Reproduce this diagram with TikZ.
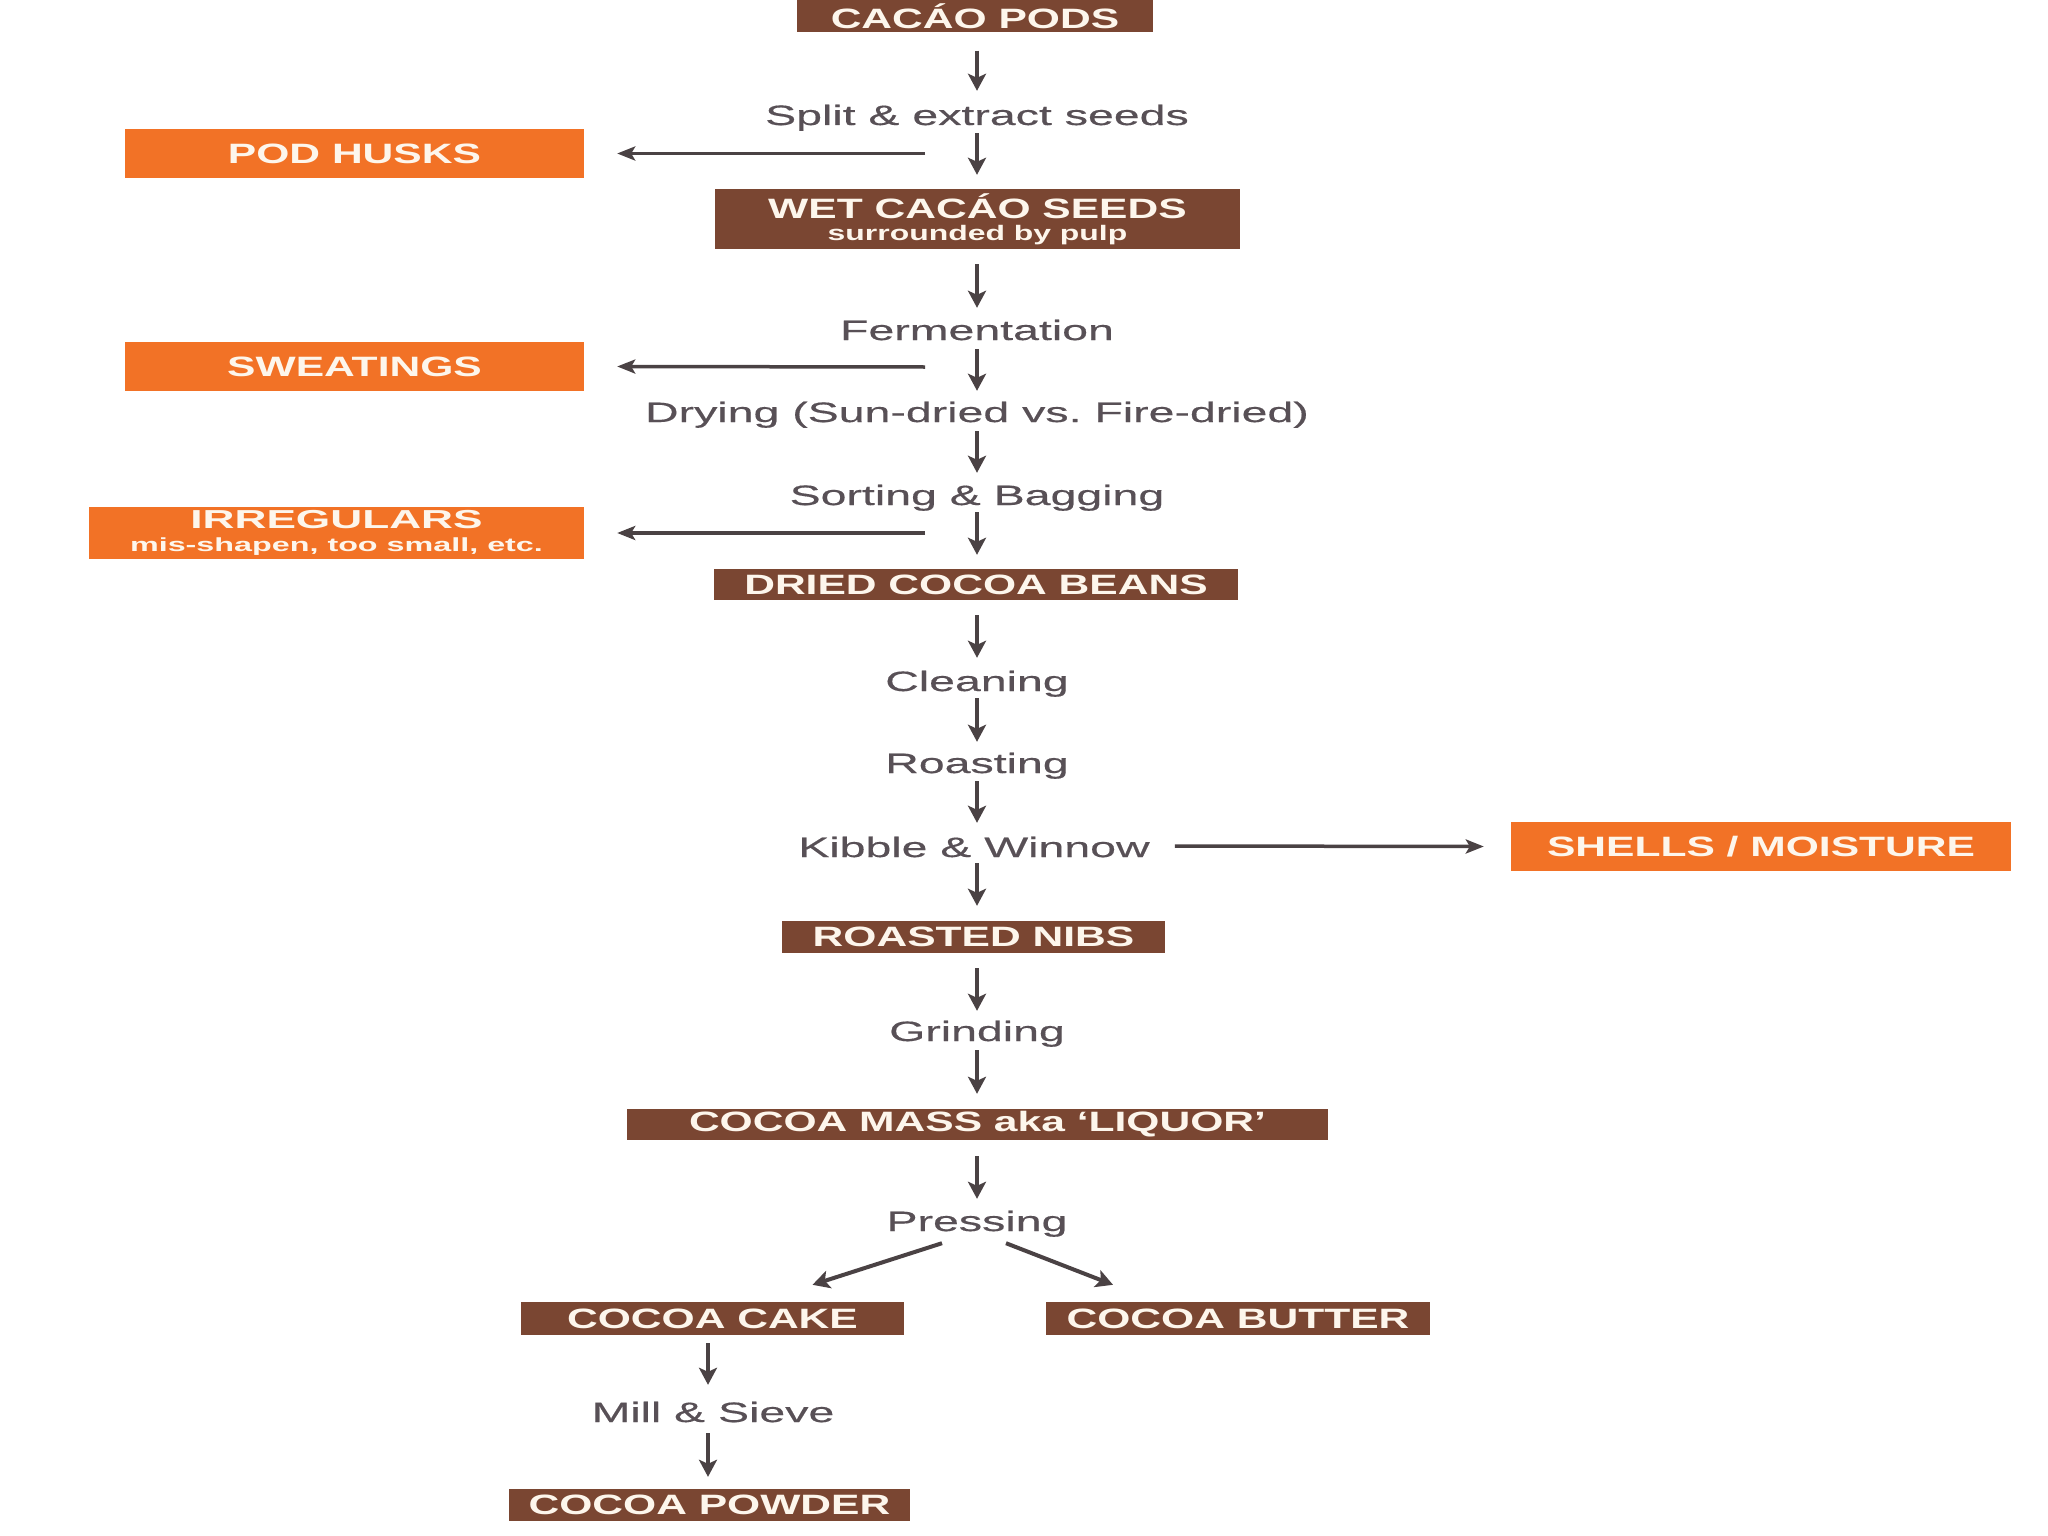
\documentclass[tikz,border=0pt]{standalone}
\usepackage{fontspec}
\usetikzlibrary{arrows.meta,calc}
\newfontfamily\boxfont[FakeStretch=1.52]{Liberation Sans}
\newfontfamily\wideboxfont[FakeStretch=1.7]{Liberation Sans}
\newfontfamily\stepfont[FakeStretch=1.66,FakeBold=0.4]{Liberation Sans}
\definecolor{cocoa}{RGB}{122,70,50}
\definecolor{husk}{RGB}{242,114,38}
\definecolor{inkgray}{RGB}{88,80,86}
\definecolor{arrowgray}{RGB}{74,66,68}
\definecolor{cream}{RGB}{253,246,236}
\begin{document}
\begin{tikzpicture}[x=1pt,y=-1pt,
  prodbox/.style={fill=cocoa, text=cream, inner sep=0pt, align=center,
    font=\boxfont\bfseries\fontsize{28pt}{30pt}\selectfont},
  wastebox/.style={prodbox, fill=husk},
  stepname/.style={text=inkgray, inner sep=0pt, text height=24pt, text depth=2pt,
    font=\stepfont\fontsize{28pt}{30pt}\selectfont},
  flow/.style={draw=arrowgray, line width=4pt, -{Stealth[length=17pt,width=18pt,inset=4pt]}},
  sideflow/.style={draw=arrowgray, line width=3.5pt, -{Stealth[length=18pt,width=14pt,inset=4pt]}}
]
\fill[white] (0,0) rectangle (2048,1536);
\useasboundingbox (0,0) rectangle (2048,1536);

% main column
\node[prodbox, minimum width=356pt, minimum height=33pt] (pods) at (975,16) {CACÁO PODS};
\node[stepname] (split) at (977,114) {Split \& extract seeds};
\node[prodbox, minimum width=525pt, minimum height=60pt] (wet) at (977.5,219)
  {WET CACÁO SEEDS\\[-8pt]{\fontsize{21pt}{22pt}\selectfont surrounded by pulp}};
\node[stepname] (ferm) at (977,329) {Fermentation};
\node[stepname] (dry) at (977,411) {Drying (Sun-dried vs.\ Fire-dried)};
\node[stepname] (sort) at (977,494) {Sorting \& Bagging};
\node[prodbox, minimum width=524pt, minimum height=31pt] (dried) at (976,584.5) {DRIED COCOA BEANS};
\node[stepname] (clean) at (977,680) {Cleaning};
\node[stepname] (roast) at (977,762) {Roasting};
\node[stepname] (kibble) at (974,846) {Kibble \& Winnow};
\node[prodbox, minimum width=383pt, minimum height=32pt] (nibs) at (973.5,937) {ROASTED NIBS};
\node[stepname] (grind) at (977,1030) {Grinding};
\node[prodbox, minimum width=701pt, minimum height=31pt] (mass) at (977.5,1124.5) {COCOA MASS aka ‘LIQUOR’};
\node[stepname] (press) at (977,1220) {Pressing};
\node[prodbox, minimum width=383pt, minimum height=33pt] (cake) at (712.5,1318.5) {COCOA CAKE};
\node[prodbox, minimum width=384pt, minimum height=33pt] (butter) at (1238,1318.5) {COCOA BUTTER};
\node[stepname] (mill) at (713,1411) {Mill \& Sieve};
\node[prodbox, minimum width=401pt, minimum height=32pt] (powder) at (709.5,1505) {COCOA POWDER};

% by-products
\node[wastebox, minimum width=459pt, minimum height=49pt] (husks) at (354.5,153.5) {POD HUSKS};
\node[wastebox, minimum width=459pt, minimum height=49pt] (sweat) at (354.5,366.5) {SWEATINGS};
\node[wastebox, minimum width=495pt, minimum height=52pt,
  font=\wideboxfont\bfseries\fontsize{26pt}{30pt}\selectfont] (irreg) at (336.5,533)
  {IRREGULARS\\[-7pt]{\fontsize{19pt}{20pt}\selectfont mis-shapen, too small, etc.}};
\node[wastebox, minimum width=500pt, minimum height=49pt] (shells) at (1761,846.5) {SHELLS / MOISTURE};

% main flow arrows
\draw[flow] ($(pods.south)+(2,18)$) -- ($(split.north)+(0,-10)$);
\draw[flow] ($(split.south)+(0,6)$) -- ($(wet.north)+(-0.5,-14)$);
\draw[flow] ($(wet.south)+(-0.5,15)$) -- ($(ferm.north)+(0,-8)$);
\draw[flow] ($(ferm.south)+(0,7)$) -- ($(dry.north)+(0,-7)$);
\draw[flow] ($(dry.south)+(0,7)$) -- ($(sort.north)+(0,-8)$);
\draw[flow] ($(sort.south)+(0,5)$) -- ($(dried.north)+(1,-14)$);
\draw[flow] ($(dried.south)+(1,15)$) -- ($(clean.north)+(0,-9)$);
\draw[flow] ($(clean.south)+(0,5)$) -- ($(roast.north)+(0,-7)$);
\draw[flow] ($(roast.south)+(0,6)$) -- ($(kibble.north)+(3,-10)$);
\draw[flow] ($(kibble.south)+(3,4)$) -- ($(nibs.north)+(3.5,-15)$);
\draw[flow] ($(nibs.south)+(3.5,15)$) -- ($(grind.north)+(0,-6)$);
\draw[flow] ($(grind.south)+(0,7)$) -- ($(mass.north)+(-0.5,-15)$);
\draw[flow] ($(mass.south)+(-0.5,16)$) -- ($(press.north)+(0,-8)$);
\draw[flow] ($(press.south)+(-35,10)$) -- ($(cake.north)+(100,-17)$);
\draw[flow] ($(press.south)+(29,10)$) -- ($(butter.north)+(-125,-17)$);
\draw[flow] ($(cake.south)+(-4.5,8)$) -- ($(mill.north)+(-5,-13)$);
\draw[flow] ($(mill.south)+(-5,9)$) -- ($(powder.north)+(-1.5,-12)$);

% side arrows
\coordinate (tapA) at (925,153.5);
\coordinate (tapB) at (925,367);
\coordinate (tapC) at (925,533);
\draw[sideflow] (tapA) -- ($(husks.east)+(33,0)$);
\draw[sideflow] (tapB) -- ($(sweat.east)+(33,0)$);
\draw[sideflow] (tapC) -- ($(irreg.east)+(33,0)$);
\draw[sideflow] ($(kibble.east)+(25,0)$) -- ($(shells.west)+(-27,0)$);
\end{tikzpicture}
\end{document}
